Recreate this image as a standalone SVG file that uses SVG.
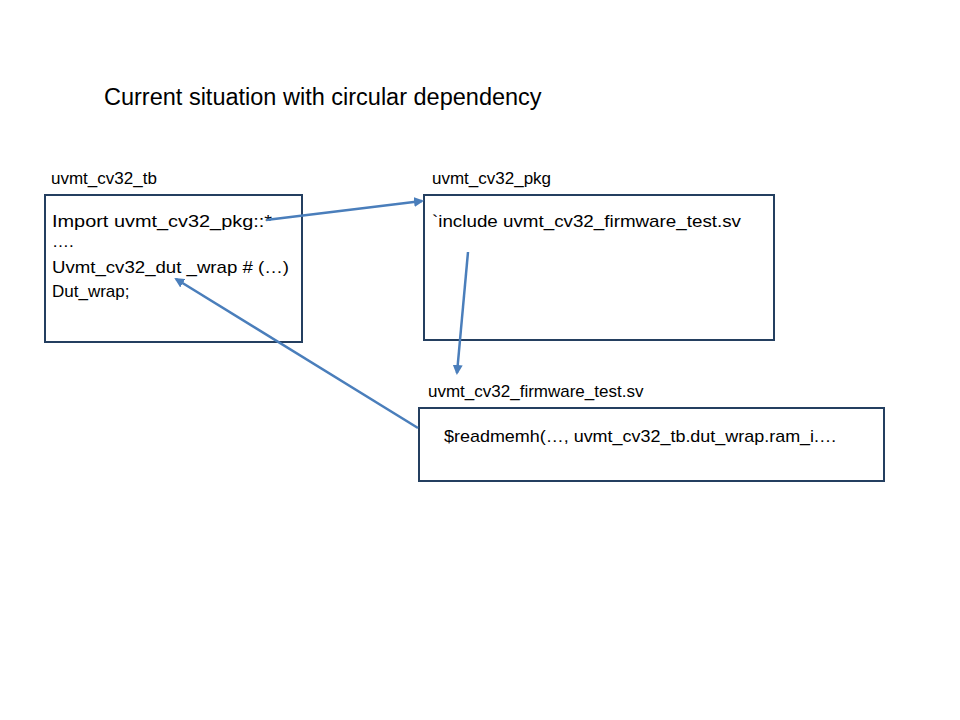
<svg xmlns="http://www.w3.org/2000/svg" width="960" height="720" viewBox="0 0 960 720">
<style>
text{font-family:"Liberation Sans",Arial,sans-serif;font-size:18.7px;fill:#000}
.box{fill:#fff;stroke:#243F60;stroke-width:2}
.c{stroke:#4A7EBB;stroke-width:2.5;fill:none;marker-end:url(#ah)}
</style>
<defs><marker id="ah" viewBox="0 0 10 10" refX="8" refY="5" markerWidth="4" markerHeight="4" orient="auto"><path d="M0,0L10,5L0,10z" fill="#4A7EBB"/></marker></defs>
<rect width="960" height="720" fill="#fff"/>
<text x="104" y="105" style="font-size:23.5px">Current situation with circular dependency</text>
<g id="tb">
<text x="51" y="184" style="font-size:17px">uvmt_cv32_tb</text>
<rect class="box" x="45" y="195" width="257" height="147"/>
<text x="52" y="227" textLength="220" lengthAdjust="spacingAndGlyphs" style="font-size:17px">Import uvmt_cv32_pkg::*</text>
<text x="52" y="247" style="font-size:17px">….</text>
<text x="52" y="273" textLength="237" lengthAdjust="spacingAndGlyphs" style="font-size:17px">Uvmt_cv32_dut _wrap # (…)</text>
<text x="52" y="297" style="font-size:17px">Dut_wrap;</text>
</g>
<g id="pkg">
<text x="432" y="184" style="font-size:17px">uvmt_cv32_pkg</text>
<rect class="box" x="424" y="195" width="350" height="145"/>
<text x="432" y="227" textLength="309" lengthAdjust="spacingAndGlyphs" style="font-size:17px">`include uvmt_cv32_firmware_test.sv</text>
</g>
<g id="fw">
<text x="428" y="397" style="font-size:17px">uvmt_cv32_firmware_test.sv</text>
<rect class="box" x="419" y="408" width="465" height="73"/>
<text x="444" y="442" textLength="393" lengthAdjust="spacingAndGlyphs" style="font-size:17px">$readmemh(…, uvmt_cv32_tb.dut_wrap.ram_i.…</text>
</g>
<g id="connectors">
<path class="c" d="M266,220L422,201"/>
<path class="c" d="M468,252L457,373"/>
<path class="c" d="M418,428L176,279"/>
</g>
</svg>
